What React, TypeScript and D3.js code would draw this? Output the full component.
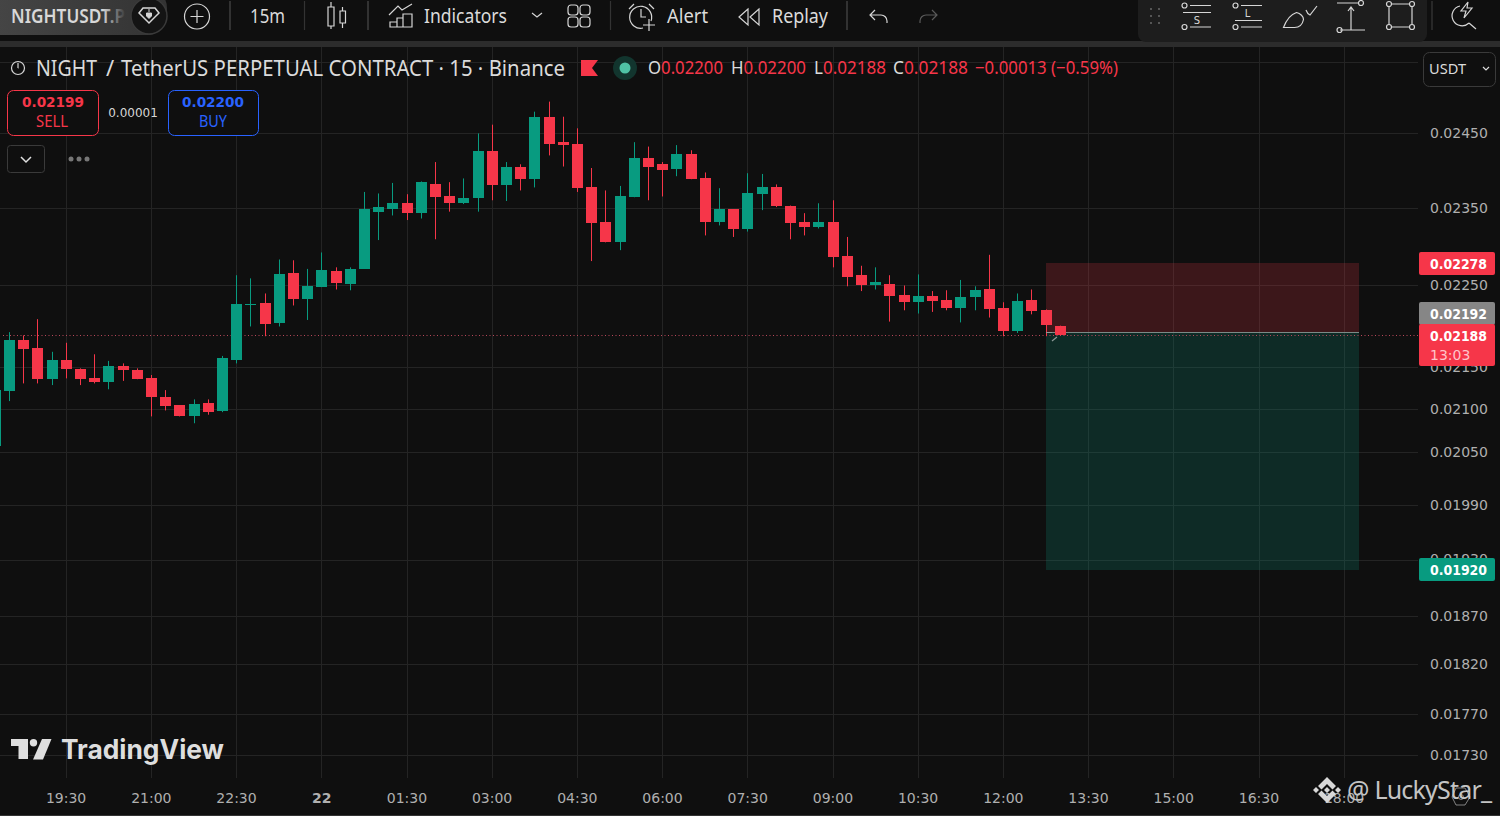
import { useEffect, useRef } from "react";
import * as d3 from "d3";

const opens = [
  0.02057, 0.02121, 0.02182, 0.02173, 0.02135, 0.02158, 0.02147, 0.02136, 0.02132, 0.02151,
  0.02146, 0.02136, 0.02114, 0.02104, 0.02091, 0.02107, 0.02097, 0.02158, 0.02225, 0.02228,
  0.02203, 0.02266, 0.02233, 0.02248, 0.02268, 0.02252, 0.02271, 0.02345, 0.02349, 0.02356,
  0.02343, 0.02381, 0.02365, 0.02357, 0.02363, 0.02426, 0.02380, 0.02405, 0.02388, 0.02473,
  0.02438, 0.02435, 0.02377, 0.02331, 0.02305, 0.02364, 0.02416, 0.02408, 0.02401, 0.02422,
  0.02389, 0.02332, 0.02348, 0.02322, 0.02368, 0.02377, 0.02352, 0.02331, 0.02325, 0.02331,
  0.02287, 0.02263, 0.02250, 0.02252, 0.02238, 0.02229, 0.02237, 0.02232, 0.02222, 0.02235,
  0.02245, 0.02222, 0.02194, 0.02232, 0.02219, 0.02200,
];
const highs = [
  0.02130, 0.02192, 0.02188, 0.02208, 0.02168, 0.02179, 0.02148, 0.02165, 0.02157, 0.02154,
  0.02148, 0.02140, 0.02122, 0.02104, 0.02111, 0.02111, 0.02163, 0.02263, 0.02259, 0.02240,
  0.02283, 0.02282, 0.02271, 0.02292, 0.02273, 0.02273, 0.02371, 0.02369, 0.02383, 0.02368,
  0.02385, 0.02411, 0.02384, 0.02389, 0.02450, 0.02462, 0.02411, 0.02408, 0.02480, 0.02494,
  0.02473, 0.02457, 0.02403, 0.02373, 0.02379, 0.02438, 0.02432, 0.02411, 0.02434, 0.02427,
  0.02397, 0.02376, 0.02348, 0.02396, 0.02395, 0.02381, 0.02353, 0.02343, 0.02356, 0.02360,
  0.02312, 0.02275, 0.02273, 0.02263, 0.02250, 0.02264, 0.02243, 0.02244, 0.02257, 0.02249,
  0.02289, 0.02229, 0.02240, 0.02245, 0.02220, 0.02200,
];
const lows = [
  0.02057, 0.02109, 0.02130, 0.02130, 0.02128, 0.02136, 0.02128, 0.02130, 0.02123, 0.02133,
  0.02135, 0.02091, 0.02098, 0.02091, 0.02083, 0.02093, 0.02096, 0.02154, 0.02199, 0.02187,
  0.02199, 0.02225, 0.02207, 0.02248, 0.02245, 0.02244, 0.02271, 0.02308, 0.02340, 0.02334,
  0.02336, 0.02309, 0.02345, 0.02355, 0.02345, 0.02360, 0.02359, 0.02373, 0.02377, 0.02420,
  0.02405, 0.02371, 0.02281, 0.02305, 0.02295, 0.02364, 0.02360, 0.02365, 0.02392, 0.02388,
  0.02314, 0.02327, 0.02312, 0.02319, 0.02347, 0.02351, 0.02309, 0.02314, 0.02323, 0.02273,
  0.02249, 0.02243, 0.02245, 0.02205, 0.02219, 0.02215, 0.02217, 0.02219, 0.02204, 0.02219,
  0.02210, 0.02187, 0.02191, 0.02214, 0.02187, 0.02188,
];
const closes = [
  0.02122, 0.02182, 0.02171, 0.02135, 0.02158, 0.02147, 0.02135, 0.02132, 0.02151, 0.02146,
  0.02135, 0.02114, 0.02103, 0.02091, 0.02106, 0.02096, 0.02160, 0.02227, 0.02227, 0.02202,
  0.02264, 0.02233, 0.02249, 0.02269, 0.02253, 0.02271, 0.02348, 0.02351, 0.02356, 0.02343,
  0.02384, 0.02364, 0.02357, 0.02363, 0.02426, 0.02380, 0.02404, 0.02388, 0.02472, 0.02435,
  0.02434, 0.02376, 0.02330, 0.02306, 0.02365, 0.02416, 0.02405, 0.02400, 0.02422, 0.02388,
  0.02331, 0.02348, 0.02322, 0.02370, 0.02377, 0.02352, 0.02330, 0.02325, 0.02331, 0.02286,
  0.02261, 0.02250, 0.02254, 0.02237, 0.02229, 0.02237, 0.02230, 0.02222, 0.02235, 0.02244,
  0.02220, 0.02193, 0.02230, 0.02218, 0.02201, 0.02188,
];

// 0.0255 only shows as a grid line, its label sits behind the USDT button
const gridPrices = [
  0.0255, 0.0245, 0.0235, 0.0225, 0.0215, 0.021, 0.0205, 0.0199, 0.0193, 0.0187, 0.0182, 0.0177, 0.0173,
];
const labelPrices = gridPrices.slice(1);
const timeLabels = [
  "19:30", "21:00", "22:30", "22", "01:30", "03:00", "04:30", "06:00", "07:30", "09:00",
  "10:30", "12:00", "13:30", "15:00", "16:30", "18:00",
];

const lastPrice = 0.02188;
const stopPrice = 0.02278;
const entryPrice = 0.02192;
const targetPrice = 0.0192;

// first bar drawn sits just off the left edge, one bar every 15 minutes
const firstBar = new Date(2025, 11, 21, 18, 15);
const firstTick = new Date(2025, 11, 21, 19, 30);
const lastTick = new Date(2025, 11, 22, 18, 0);
const barTime = (i: number) => d3.timeMinute.offset(firstBar, i * 15);
const tickTimes = timeLabels.map((_, i) => d3.timeMinute.offset(firstTick, i * 90));

const x = d3.scaleTime().domain([firstTick, lastTick]).range([66.3, 1344.3]);
const y = d3.scaleLog().domain([0.0245, 0.0173]).range([133.4, 754.9]);

const BG = "#0f0f0f";
const GRID = "#242424";
const RED = "#f63649";
const GREEN = "#089b80";
const BLUE = "#2962ff";
const PANE_RIGHT = 1418;
const PANE_TOP = 47;
const PANE_BOTTOM = 778;
const AXIS_FONT = "'DejaVu Sans', sans-serif";
const UI_FONT = "'Noto Sans', sans-serif";
const ICON = "#d6d6d6";
const PANEL = "#1d1d1d";

function Sep({ at, color = "#4a4a4a" }: { at: number; color?: string }) {
  return <line x1={at} x2={at} y1={1} y2={30} stroke={color} strokeWidth={1.2} />;
}

function ToolText({ at, width, children }: { at: number; width: number; children: string }) {
  return (
    <text
      x={at}
      y={23}
      fill="#dbdbdb"
      fontSize={20}
      fontFamily={UI_FONT}
      textLength={width}
      lengthAdjust="spacingAndGlyphs"
    >
      {children}
    </text>
  );
}

function PriceTag({ top, h, fill, label }: { top: number; h: number; fill: string; label: string }) {
  return (
    <g>
      <rect x={1419} y={top} width={76} height={h} rx={2} fill={fill} />
      <text
        x={1430}
        y={top + 17}
        fill="#fff"
        fontSize={14}
        fontWeight={700}
        fontFamily={AXIS_FONT}
        textLength={57}
        lengthAdjust="spacingAndGlyphs"
      >
        {label}
      </text>
    </g>
  );
}

function Toolbar() {
  return (
    <g>
      <rect x={0} y={0} width={1500} height={41} fill={BG} />
      <rect x={0} y={41} width={1500} height={6} fill="#2c2c2c" />
      <defs>
        <linearGradient id="pill" x1="0" x2="1">
          <stop offset="0" stopColor="#474747" />
          <stop offset="1" stopColor="#333" />
        </linearGradient>
        <linearGradient id="pillText" x1="0" x2="1">
          <stop offset="0.8" stopColor="#d8d8d8" />
          <stop offset="1" stopColor="#3c3c3c" />
        </linearGradient>
      </defs>
      <rect x={-20} y={-12} width={187} height={47} rx={20} fill="url(#pill)" />
      <text
        x={11}
        y={23}
        fontSize={19}
        fontWeight={600}
        fontFamily={UI_FONT}
        fill="url(#pillText)"
        textLength={114}
        lengthAdjust="spacingAndGlyphs"
      >
        NIGHTUSDT.P
      </text>
      <circle cx={149} cy={16} r={18} fill="#141414" stroke="#3a3a3a" strokeWidth={1.5} />
      <path d="M139 13l4-5h12l4 5-10 10z" fill="none" stroke={ICON} strokeWidth={1.5} />
      <path d="M149 9v3M146.500 13h5v3l-2.500 2.500-2.500-2.500z" fill={ICON} stroke={ICON} />

      <circle cx={197} cy={16.5} r={12.5} fill="none" stroke={ICON} strokeWidth={1.2} />
      <path d="M197 10v13M190.500 16.500h13" stroke={ICON} strokeWidth={1.2} />
      <Sep at={230} />
      <ToolText at={250} width={35}>15m</ToolText>
      <Sep at={304.500} color="#333" />
      <path
        d="M331 2v5M331 26v3M328 7h6v19h-6zM342.500 7v4M342.500 23v5M340 11h5.500v12h-5.500z"
        fill="none"
        stroke={ICON}
        strokeWidth={1.2}
      />
      <Sep at={368} />
      <path
        d="M389 15l9-9 4 4 10-6M390 22h7v5h-7zM397 18h6v9h-6zM403 14h9v13h-9z"
        fill="none"
        stroke={ICON}
        strokeWidth={1.2}
      />
      <ToolText at={424} width={83}>Indicators</ToolText>
      <path d="M532 13l5 4 5-4" fill="none" stroke={ICON} strokeWidth={1.2} />
      {[568, 580].map((sx) =>
        [5, 17].map((sy) => (
          <rect
            key={`${sx}-${sy}`}
            x={sx}
            y={sy}
            width={10}
            height={10}
            rx={3}
            fill="none"
            stroke={ICON}
            strokeWidth={1.2}
          />
        ))
      )}
      <Sep at={610.500} color="#333" />
      <path
        d="M651 21a11 11 0 1 0-8 7M641 9v8h5M629 9l5-5M649 4l5 5M649 19v12M643 25h12"
        fill="none"
        stroke={ICON}
        strokeWidth={1.2}
      />
      <ToolText at={667} width={41}>Alert</ToolText>
      <path d="M748 9l-9 8 9 8zM759 9l-9 8 9 8z" fill="none" stroke={ICON} strokeWidth={1.2} />
      <ToolText at={772} width={56}>Replay</ToolText>
      <Sep at={847} />
      <path d="M875 10l-5 5 5 5M870 15h11a6 6 0 0 1 6 6v2" fill="none" stroke={ICON} strokeWidth={1.2} />
      <path d="M932 10l5 5-5 5M937 15h-11a6 6 0 0 0-6 6v2" fill="none" stroke="#5a5a5a" strokeWidth={1.2} />

      <path d="M1138 0h289v34a8 8 0 0 1-8 8h-273a8 8 0 0 1-8-8z" fill={PANEL} />
      <g fill="#555">
        {[8, 15, 22].map((cy) =>
          [1150, 1158].map((cx) => <rect key={`${cx}-${cy}`} x={cx} y={cy} width={2} height={2} />)
        )}
      </g>
      <g fill="none" stroke={ICON} strokeWidth={1.2}>
        <path d="M1190 5.500h21M1183 12.500h28M1190 27h21" />
        <circle cx={1184.500} cy={5.500} r={2.500} />
        <circle cx={1184.500} cy={27} r={2.500} />
        <path d="M1241 5.500h21M1235 20.500h27M1241 27h21" />
        <circle cx={1235.500} cy={5.500} r={2.500} />
        <circle cx={1235.500} cy={27} r={2.500} />
        <path d="M1283.500 27.500c3-8 7-13 13-15 4 1 7 4 7 7-1 5-4 8-9 8zM1306 10c1 3 2 4 4 5l7-9" />
        <path d="M1337 3h22M1351 8v22M1340 30h25M1348 11l3-4 3 4" />
        <circle cx={1361} cy={3} r={2.500} />
        <circle cx={1339.500} cy={30} r={2.500} />
        <path d="M1391 4h19M1389 6.500v18M1412 6.500v18M1391 27h19" />
        <circle cx={1389} cy={4} r={2.500} />
        <circle cx={1412} cy={4} r={2.500} />
        <circle cx={1389} cy={27} r={2.500} />
        <circle cx={1412} cy={27} r={2.500} />
      </g>
      <text x={1197} y={24} fill={ICON} fontSize={10} textAnchor="middle" fontFamily={AXIS_FONT}>S</text>
      <text x={1247.500} y={17} fill={ICON} fontSize={10} textAnchor="middle" fontFamily={AXIS_FONT}>L</text>
      <Sep at={1432} color="#3a3a3a" />
      <path
        d="M1460 6a10 10 0 1 0 9 17M1469 23l7 6M1468 2l-7 9h5l-2 7 8-10h-5z"
        fill="none"
        stroke={ICON}
        strokeWidth={1.2}
      />
    </g>
  );
}

function Legend() {
  const head = {
    fontSize: 22,
    fontFamily: UI_FONT,
    y: 76,
    fill: "#dbdbdb",
    lengthAdjust: "spacingAndGlyphs" as const,
  };
  const ohlc = { fontSize: 18, fontFamily: UI_FONT, y: 74, lengthAdjust: "spacingAndGlyphs" as const };
  const vals: [string, string, number, number][] = [
    ["O", "0.02200", 648, 75],
    ["H", "0.02200", 731, 75],
    ["L", "0.02188", 814, 72],
    ["C", "0.02188", 893, 75],
  ];
  return (
    <g>
      <circle cx={18} cy={68} r={6.5} fill="none" stroke="#d6d6d6" strokeWidth={1.2} />
      <path d="M18 63v5h-.1" fill="none" stroke="#d6d6d6" strokeWidth={1.2} />
      <text x={36} textLength={61} {...head}>NIGHT</text>
      <text x={106} {...head}>/</text>
      <text x={121} textLength={444} {...head}>TetherUS PERPETUAL CONTRACT · 15 · Binance</text>
      <path d="M581 60h17l-6 8 6 8h-17z" fill={RED} />
      <circle cx={625} cy={68} r={12} fill="#12352e" />
      <circle cx={625} cy={68} r={5.500} fill="#4fc2a5" />
      {vals.map(([k, v, at, w]) => (
        <text key={k} x={at} textLength={w} {...ohlc}>
          <tspan fill="#dbdbdb">{k}</tspan>
          <tspan fill={RED}>{v}</tspan>
        </text>
      ))}
      <text x={975} fill={RED} textLength={143} {...ohlc}>
        −0.00013 (−0.59%)
      </text>

      <rect x={7.500} y={90.500} width={91} height={45} rx={6} fill={BG} stroke={RED} />
      <text
        x={22}
        y={107}
        fill={RED}
        fontSize={14}
        fontWeight={700}
        fontFamily={AXIS_FONT}
        textLength={62}
        lengthAdjust="spacingAndGlyphs"
      >
        0.02199
      </text>
      <text x={36} y={127} fill={RED} fontSize={16} fontFamily={UI_FONT} textLength={32} lengthAdjust="spacingAndGlyphs">
        SELL
      </text>
      <text x={133} y={117} fill="#d6d6d6" fontSize={12} textAnchor="middle" fontFamily={AXIS_FONT}>0.00001</text>
      <rect x={168.500} y={90.500} width={90} height={45} rx={6} fill={BG} stroke={BLUE} />
      <text
        x={182}
        y={107}
        fill={BLUE}
        fontSize={14}
        fontWeight={700}
        fontFamily={AXIS_FONT}
        textLength={62}
        lengthAdjust="spacingAndGlyphs"
      >
        0.02200
      </text>
      <text x={199} y={127} fill={BLUE} fontSize={16} fontFamily={UI_FONT} textLength={28} lengthAdjust="spacingAndGlyphs">
        BUY
      </text>
      <rect x={7.500} y={145.500} width={37} height={27} rx={3} fill={BG} stroke="#3a3a3a" />
      <path d="M21 157l5 5 5-5" fill="none" stroke="#e0e0e0" strokeWidth={1.5} />
      {[71, 79, 87].map((cx) => (
        <circle key={cx} cx={cx} cy={159} r={2.500} fill="#777" />
      ))}

      <rect x={1423.500} y={52.500} width={72} height={34} rx={6} fill={BG} stroke="#3a3a3a" />
      <text x={1429} y={74} fill="#dbdbdb" fontSize={15} fontFamily={UI_FONT} textLength={37} lengthAdjust="spacingAndGlyphs">
        USDT
      </text>
      <path d="M1483 67l3 3 3-3" fill="none" stroke="#dbdbdb" strokeWidth={1.2} />
    </g>
  );
}

export default function App() {
  const plotRef = useRef<SVGGElement>(null);

  useEffect(() => {
    if (!plotRef.current) return;
    const g = d3.select(plotRef.current);
    g.selectAll("*").remove();

    g.append("g")
      .selectAll("line")
      .data(gridPrices)
      .join("line")
      .attr("x1", 0)
      .attr("x2", PANE_RIGHT)
      .attr("y1", (d) => Math.round(y(d)) + 0.5)
      .attr("y2", (d) => Math.round(y(d)) + 0.5)
      .attr("stroke", GRID);

    g.append("g")
      .selectAll("line")
      .data(tickTimes)
      .join("line")
      .attr("x1", (d) => Math.floor(x(d)) + 0.5)
      .attr("x2", (d) => Math.floor(x(d)) + 0.5)
      .attr("y1", PANE_TOP)
      .attr("y2", PANE_BOTTOM)
      .attr("stroke", GRID);

    // short position tool
    const toolL = Math.round(x(barTime(74)));
    const toolR = Math.round(x(barTime(96)));
    const toolTop = Math.floor(y(stopPrice));
    const toolMid = Math.round(y(entryPrice));
    const toolBottom = Math.ceil(y(targetPrice)) + 1;
    g.append("rect")
      .attr("x", toolL)
      .attr("width", toolR - toolL)
      .attr("y", toolTop)
      .attr("height", toolMid - toolTop)
      .attr("fill", "#f23645")
      .attr("fill-opacity", 0.2);
    g.append("rect")
      .attr("x", toolL)
      .attr("width", toolR - toolL)
      .attr("y", toolMid)
      .attr("height", toolBottom - toolMid)
      .attr("fill", "#089981")
      .attr("fill-opacity", 0.2);
    g.append("line")
      .attr("x1", toolL)
      .attr("x2", toolR)
      .attr("y1", toolMid + 0.5)
      .attr("y2", toolMid + 0.5)
      .attr("stroke", "#7a8a86");

    g.append("line")
      .attr("x1", 3)
      .attr("x2", PANE_RIGHT)
      .attr("y1", Math.round(y(lastPrice)) + 0.5)
      .attr("y2", Math.round(y(lastPrice)) + 0.5)
      .attr("stroke", "#b8485a")
      .attr("stroke-dasharray", "1 2.5");

    const color = (i: number) => (closes[i] >= opens[i] ? GREEN : RED);
    const bars = g.append("g").selectAll("g").data(opens).join("g");
    bars
      .append("rect")
      .attr("x", (_, i) => Math.floor(x(barTime(i))))
      .attr("width", 1)
      .attr("y", (_, i) => y(highs[i]))
      .attr("height", (_, i) => y(lows[i]) - y(highs[i]))
      .attr("fill", (_, i) => color(i));
    bars
      .append("rect")
      .attr("x", (_, i) => Math.floor(x(barTime(i))) - 5)
      .attr("width", 11)
      .attr("y", (_, i) => Math.round(y(Math.max(opens[i], closes[i]))))
      .attr("height", (_, i) =>
        Math.max(1, Math.round(y(Math.min(opens[i], closes[i]))) - Math.round(y(Math.max(opens[i], closes[i]))))
      )
      .attr("fill", (_, i) => color(i));

    // small drawing cursor left on the chart next to the tool's corner
    g.append("path")
      .attr("d", "M1046 332.500h6M1052 341l5-4")
      .attr("fill", "none")
      .attr("stroke", "#8f9a98")
      .attr("stroke-width", 1.2);

    const fmt = d3.format(".5f");
    const priceAxis = d3
      .axisRight(y)
      .tickValues(labelPrices)
      .tickFormat((d) => fmt(Number(d)))
      .tickSize(0)
      .tickPadding(0);
    const ax = g.append("g").attr("transform", "translate(1430,0)").call(priceAxis);
    ax.select(".domain").remove();
    ax.selectAll("text").attr("fill", "#b0b0b0").attr("font-size", 14).attr("font-family", AXIS_FONT);

    const timeAxis = d3
      .axisBottom(x)
      .tickValues(tickTimes)
      .tickFormat((_, i) => timeLabels[i])
      .tickSize(0)
      .tickPadding(0);
    const bx = g.append("g").attr("transform", "translate(-0.700,793)").call(timeAxis);
    bx.select(".domain").remove();
    bx.selectAll("text")
      .attr("fill", "#b0b0b0")
      .attr("font-size", 14)
      .attr("font-family", AXIS_FONT)
      .attr("font-weight", (_, i) => (timeLabels[i] === "22" ? 700 : 400));
  }, []);

  return (
    <svg
      width={1500}
      height={816}
      viewBox="0 0 1500 816"
      style={{ position: "fixed", left: 0, top: 0, background: BG }}
    >
      <g ref={plotRef} />
      <Toolbar />
      <Legend />

      <PriceTag top={252} h={23} fill={RED} label="0.02278" />
      <PriceTag top={302} h={23} fill="#868686" label="0.02192" />
      <PriceTag top={324} h={42} fill={RED} label="0.02188" />
      <text x={1430} y={360} fill="#ffc4ca" fontSize={14} fontFamily={AXIS_FONT}>13:03</text>
      <PriceTag top={558} h={23} fill={GREEN} label="0.01920" />

      <path d="M11 739h17v20h-9.500v-13h-7.500z" fill="#dedede" />
      <circle cx={33.500} cy={742.700} r={3.700} fill="#dedede" />
      <path d="M42 739h9.500l-8.500 20.500h-10z" fill="#dedede" />
      <text
        x={61}
        y={759}
        fill="#dedede"
        fontSize={27}
        fontWeight={700}
        fontFamily="Inter, sans-serif"
        textLength={163}
        lengthAdjust="spacingAndGlyphs"
      >
        TradingView
      </text>

      <path
        d="M1327 777l9 9-3.500 3.500-5.500-5.500-5.500 5.500-3.500-3.500zM1327 803l-9-9 3.500-3.500 5.500 5.500 5.500-5.500 3.500 3.500zM1316 787l3 3-3 3-3-3zM1338 787l3 3-3 3-3-3zM1327 787l3 3-3 3-3-3z"
        fill="#d8d8d8"
      />
      <text x={1347} y={799} fill="#c4c4c4" fontSize={25} fontFamily={UI_FONT} textLength={145}>
        @ LuckyStar_
      </text>
      <path d="M1456 788h9l5 9-5 8h-9l-4-8z" fill="none" stroke="#cfcfcf" strokeOpacity={0.6} />
      <circle cx={1461} cy={797} r={2.500} fill="none" stroke="#cfcfcf" strokeOpacity={0.6} />
      <rect x={0} y={815} width={1500} height={1} fill="#333" />
    </svg>
  );
}
